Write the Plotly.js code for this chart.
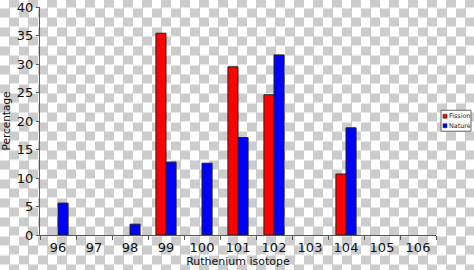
<!DOCTYPE html>
<html>
<head>
<meta charset="utf-8">
<script src="https://cdn.plot.ly/plotly-3.0.1.min.js"></script>
<style>
html,body{margin:0;padding:0;}
body{
  width:474px;height:270px;overflow:hidden;
  background-color:#ffffff;
  background-image:conic-gradient(#cccccc 25%, #ffffff 0 50%, #cccccc 0 75%, #ffffff 0);
  background-size:19px 19px;
  background-position:0px -1.5px;
}
#chart{width:474px;height:270px;}
</style>
</head>
<body>
<div id="chart"></div>
<script>
const isotopes = ['96','97','98','99','100','101','102','103','104','105','106'];
const fission = [null, null, null, 35.4, null, 29.5, 24.6, null, 10.7, null, null];
const nature  = [5.6, null, 1.9, 12.8, 12.6, 17.1, 31.6, null, 18.8, null, null];
const seriesNames = ['Fission', 'Nature'];
const seriesColors = ['#ff0000', '#0000ff'];

const font = 'DejaVu Sans, sans-serif';
const traces = [fission, nature].map((vals, i) => ({
  type: 'bar',
  name: seriesNames[i],
  x: isotopes,
  y: vals,
  marker: {color: seriesColors[i], line: {color: '#222222', width: 1}},
  showlegend: false
}));

// hand-drawn small legend (paper coordinates)
const L = 40, T = 6.5, PW = 396, PH = 228.5;
const px = v => (v - L) / PW;
const py = v => (T + PH - v) / PH;
const shapes = [
  {type:'rect', xref:'paper', yref:'paper', x0:px(441), x1:px(471), y0:py(131), y1:py(110),
   line:{color:'#666666', width:1}, fillcolor:'rgba(255,255,255,0.9)'}
];
const annotations = [];
seriesNames.forEach((n, i) => {
  const cy = 116 + i * 9.5;
  shapes.push({type:'rect', xref:'paper', yref:'paper', x0:px(443), x1:px(447), y0:py(cy+2), y1:py(cy-2),
    line:{color:'#222222', width:0.5}, fillcolor:seriesColors[i]});
  annotations.push({xref:'paper', yref:'paper', x:px(447.5), y:py(cy), xanchor:'left', yanchor:'middle',
    text:n, showarrow:false, borderpad:0, font:{family:font, size:6.4, color:'#222222'}});
});

const layout = {
  width: 474, height: 270,
  margin: {l: 40, r: 38, t: 6.5, b: 35, pad: 0},
  paper_bgcolor: 'rgba(0,0,0,0)',
  plot_bgcolor: 'rgba(0,0,0,0)',
  barmode: 'group',
  bargap: 0.44,
  bargroupgap: 0,
  font: {family: font, color: '#111111'},
  xaxis: {
    type: 'category',
    range: [-0.5, 10.5],
    tickson: 'boundaries',
    ticks: 'outside', ticklen: 4, tickcolor: '#555555', tickwidth: 1,
    showline: true, linecolor: '#555555', linewidth: 1,
    showgrid: false, zeroline: false,
    ticklabeloverflow: 'allow',
    tickfont: {family: font, size: 13, color: '#111111'},
    title: {text: 'Ruthenium isotope', font: {family: font, size: 11, color: '#111111'}, standoff: 3},
    automargin: false
  },
  yaxis: {
    range: [0, 40], dtick: 5, tick0: 0,
    ticks: 'outside', ticklen: 3, tickcolor: '#555555', tickwidth: 1,
    showline: true, linecolor: '#555555', linewidth: 1,
    showgrid: false, zeroline: false,
    ticklabeloverflow: 'allow',
    tickfont: {family: font, size: 13, color: '#111111'},
    title: {text: 'Percentage', font: {family: font, size: 10.5, color: '#111111'}, standoff: 4},
    automargin: false
  },
  shapes: shapes,
  annotations: annotations
};

Plotly.newPlot('chart', traces, layout, {displayModeBar: false, staticPlot: true});
</script>
</body>
</html>
